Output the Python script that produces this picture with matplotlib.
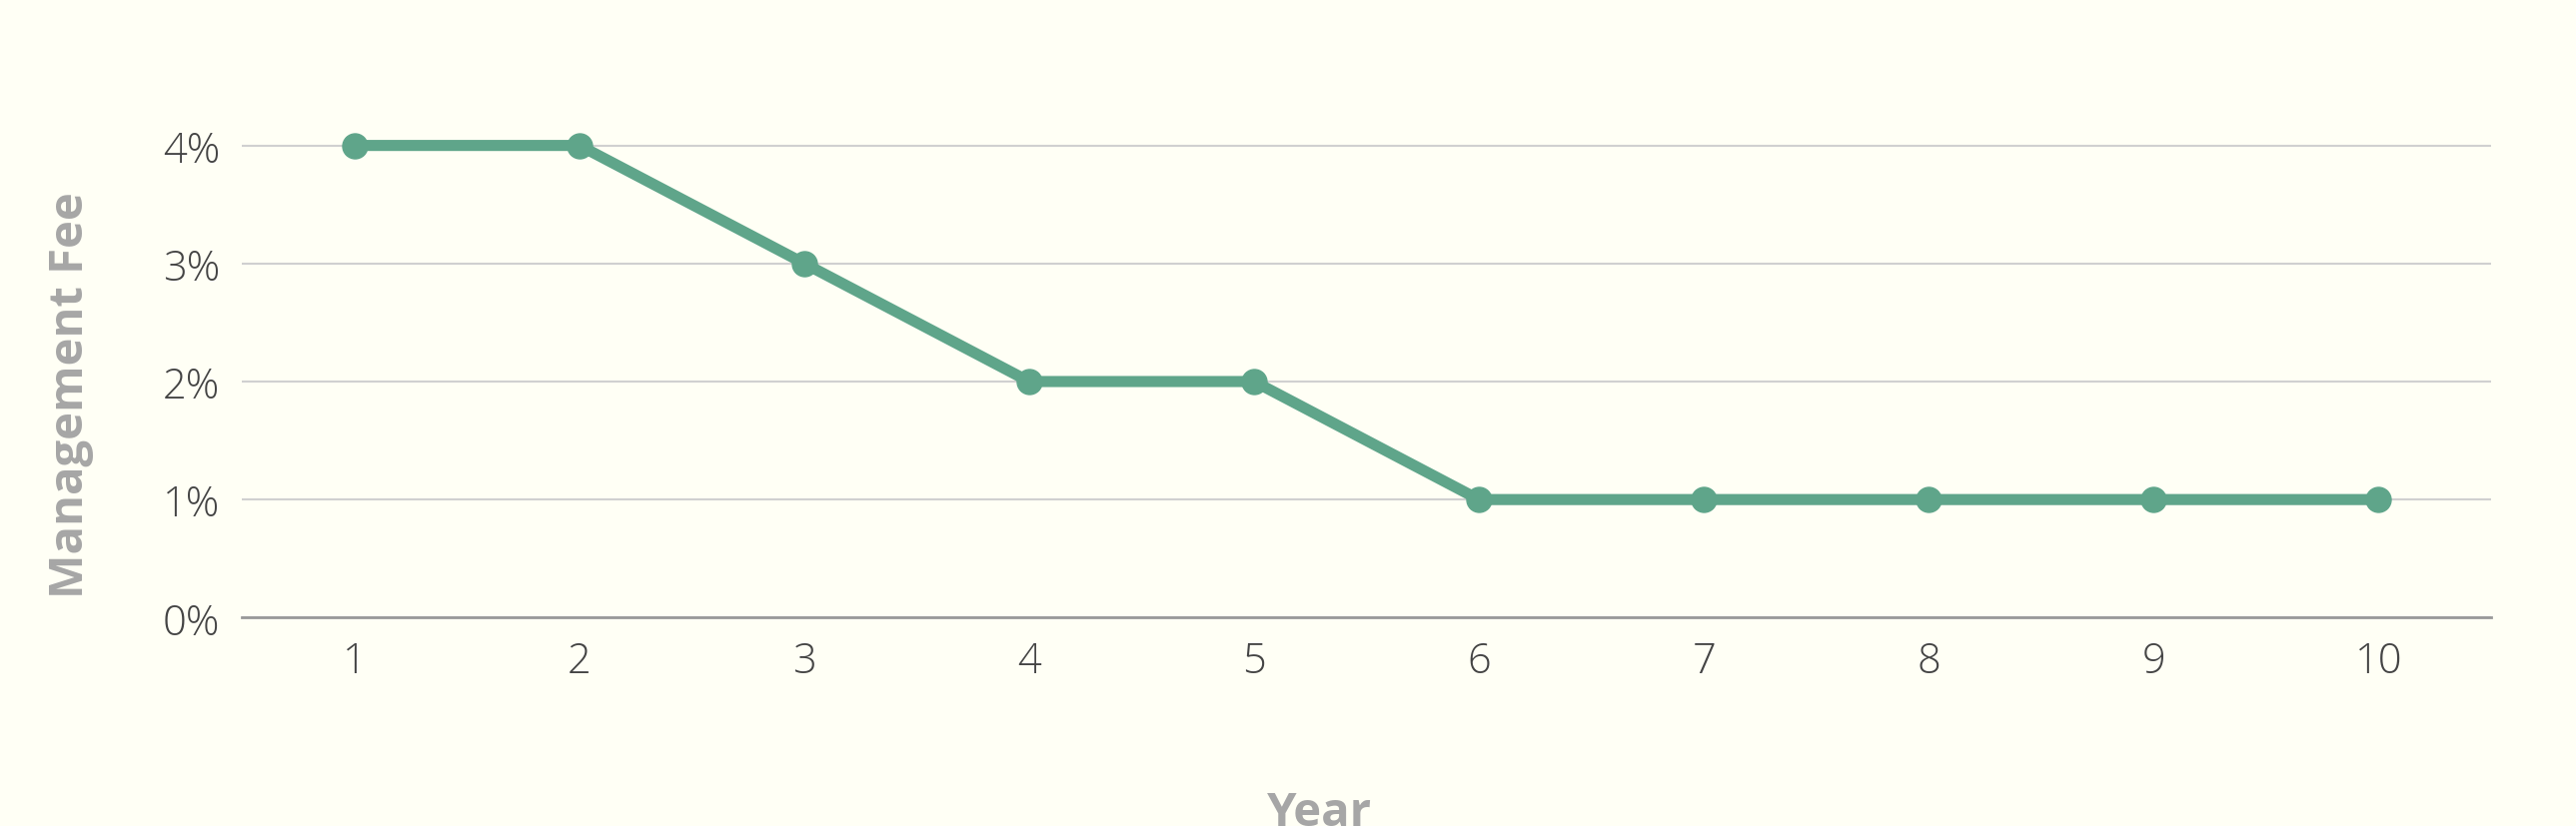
import matplotlib
matplotlib.use("Agg")
import matplotlib.pyplot as plt
import matplotlib.ticker as mticker

# ── Données ──────────────────────────────────────────────────────────────────
years = [1, 2, 3, 4, 5, 6, 7, 8, 9, 10]
fees = [4, 4, 3, 2, 2, 1, 1, 1, 1, 1]
y_ticks = [0, 1, 2, 3, 4]

BG = "#fffff5"
GREEN = "#5fa58a"
GREY = "#a6a6a6"

fig = plt.figure(figsize=(25.78, 8.28), dpi=100, facecolor=BG)
ax = fig.add_axes([0.094, 0.252, 0.873, 0.628], facecolor=BG)

ax.plot(years, fees, color=GREEN, linewidth=8, marker="o", markersize=18,
        clip_on=False, zorder=3)

ax.set_xlim(0.5, 10.5)
ax.set_ylim(0, 4.4)
ax.set_xticks(years)
ax.set_yticks(y_ticks)
ax.yaxis.set_major_formatter(mticker.FuncFormatter(lambda v, _: f"{v:.0f}%"))
ax.grid(True, axis="y", color="#d0d0d0", linewidth=1.5)
ax.set_axisbelow(True)

for s in ["top", "right", "left"]:
    ax.spines[s].set_visible(False)
ax.spines["bottom"].set_color("#999999")
ax.spines["bottom"].set_linewidth(2)

ax.tick_params(length=0, labelsize=30, labelcolor="#444444", pad=16)
for lab in ax.get_xticklabels() + ax.get_yticklabels():
    lab.set_family("Open Sans")
    lab.set_fontweight("light")

ax.set_xlabel("Year", fontsize=34, fontweight="bold", color=GREY,
              family="Open Sans")
ax.set_ylabel("Management Fee", fontsize=34, fontweight="bold", color=GREY,
              family="Open Sans")
ax.xaxis.set_label_coords(0.479, -0.33)
ax.yaxis.set_label_coords(-0.066, 0.43)

fig.savefig("out.png", dpi=100, facecolor=BG)
